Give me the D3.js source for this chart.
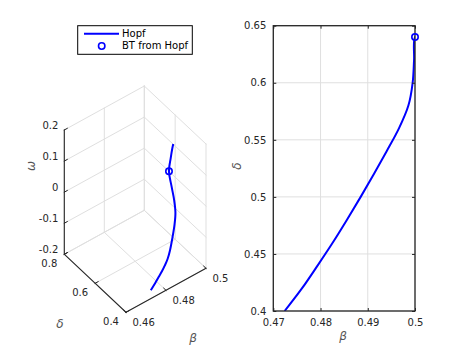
<!DOCTYPE html>
<html>
<head>
<meta charset="utf-8">
<script src="https://cdn.jsdelivr.net/npm/d3@7"></script>
<style>
  html, body { margin: 0; padding: 0; background: #fff; }
  svg { display: block; }
  text { font-family: "DejaVu Sans", sans-serif; }
</style>
</head>
<body>
<svg id="chart" width="474" height="350"></svg>
<script>
// Hopf bifurcation curve in (beta, delta, omega); the last three points continue past the BT point
const hopfBeta  = [0.4724, 0.4761, 0.4794, 0.4826, 0.4856, 0.4885, 0.4913, 0.4940, 0.4966, 0.4986,
                   0.4995, 0.4998, 0.5000, 0.50125, 0.50245, 0.5033];
const hopfDelta = [0.40, 0.42, 0.44, 0.46, 0.48, 0.50, 0.52, 0.54, 0.56, 0.58,
                   0.60, 0.62, 0.64, 0.645, 0.650, 0.655];
const hopfOmega = [-0.173, -0.173, -0.174, -0.176, -0.177, -0.176, -0.166, -0.146, -0.122, -0.100,
                   -0.072, -0.040, 0.000, 0.036, 0.061, 0.069];

// Bogdanov–Takens point detected on the Hopf curve
const btBeta = [0.5];
const btDelta = [0.64];
const btOmega = [0.0];

// Tick values and labels
const betaTicks3D = [0.46, 0.48, 0.5];
const betaLabels3D = ["0.46", "0.48", "0.5"];
const deltaTicks3D = [0.4, 0.6, 0.8];
const deltaLabels3D = ["0.4", "0.6", "0.8"];
const omegaTicks = [-0.2, -0.1, 0, 0.1, 0.2];
const omegaLabels = ["-0.2", "-0.1", "0", "0.1", "0.2"];
const betaTicks2D = [0.47, 0.48, 0.49, 0.5];
const betaLabels2D = ["0.47", "0.48", "0.49", "0.5"];
const deltaTicks2D = [0.4, 0.45, 0.5, 0.55, 0.6, 0.65];
const deltaLabels2D = ["0.4", "0.45", "0.5", "0.55", "0.6", "0.65"];

const legendLabels = ["Hopf", "BT from Hopf"];

const BLUE = "#0000ff";
const AXIS = "#262626";
const GRID = "#dfdfdf";

const svg = d3.select("#chart");
const hopf = hopfBeta.map((b, i) => ({ b, d: hopfDelta[i], w: hopfOmega[i] }));
const bt = btBeta.map((b, i) => ({ b, d: btDelta[i], w: btOmega[i] }));

// ---------- Left panel: 3-D view (orthographic projection) ----------
const fb = d3.scaleLinear().domain([0.46, 0.5]).range([0, 1]);
const fd = d3.scaleLinear().domain([0.4, 0.8]).range([0, 1]);
const fw = d3.scaleLinear().domain([-0.2, 0.2]).range([0, 1]);
const origin = [126, 312.3];          // corner beta=0.46, delta=0.4, omega=-0.2
const vB = [80, -44], vD = [-61.7, -58], vW = [0, -124.3];
function proj(b, d, w) {
  const tb = fb(b), td = fd(d), tw = fw(w);
  return [origin[0] + tb * vB[0] + td * vD[0] + tw * vW[0],
          origin[1] + tb * vB[1] + td * vD[1] + tw * vW[1]];
}
const g3 = svg.append("g");
const seg = (p, q, color, width) =>
  g3.append("line").attr("x1", p[0]).attr("y1", p[1]).attr("x2", q[0]).attr("y2", q[1])
    .attr("stroke", color).attr("stroke-width", width).attr("stroke-linecap", "square");

const bMin = 0.46, bMax = 0.5, dMin = 0.4, dMax = 0.8, wMin = -0.2, wMax = 0.2;
// floor grid (omega = min)
betaTicks3D.forEach(b => seg(proj(b, dMin, wMin), proj(b, dMax, wMin), GRID, 1));
deltaTicks3D.forEach(d => seg(proj(bMin, d, wMin), proj(bMax, d, wMin), GRID, 1));
// back wall delta = max
betaTicks3D.forEach(b => seg(proj(b, dMax, wMin), proj(b, dMax, wMax), GRID, 1));
omegaTicks.forEach(w => seg(proj(bMin, dMax, w), proj(bMax, dMax, w), GRID, 1));
// back wall beta = max
deltaTicks3D.forEach(d => seg(proj(bMax, d, wMin), proj(bMax, d, wMax), GRID, 1));
omegaTicks.forEach(w => seg(proj(bMax, dMin, w), proj(bMax, dMax, w), GRID, 1));

// axis lines
seg(proj(bMin, dMax, wMin), proj(bMin, dMax, wMax), AXIS, 1.1);
seg(proj(bMin, dMin, wMin), proj(bMin, dMax, wMin), AXIS, 1.1);
seg(proj(bMin, dMin, wMin), proj(bMax, dMin, wMin), AXIS, 1.1);

// ticks
omegaTicks.forEach(w => seg(proj(bMin, dMax, w), proj(bMin + 0.0015, dMax, w), AXIS, 1));
deltaTicks3D.forEach(d => seg(proj(bMin, d, wMin), proj(bMin + 0.0015, d, wMin), AXIS, 1));
betaTicks3D.forEach(b => seg(proj(b, dMin, wMin), proj(b, dMin + 0.015, wMin), AXIS, 1));

// tick labels
omegaTicks.forEach((w, i) => {
  const p = proj(bMin, dMax, w);
  g3.append("text").attr("x", p[0] - 6).attr("y", p[1] - 5).attr("dy", "0.35em")
    .attr("text-anchor", "end").attr("font-size", 10).attr("fill", AXIS).text(omegaLabels[i]);
});
deltaTicks3D.forEach((d, i) => {
  const p = proj(bMin, d, wMin);
  g3.append("text").attr("x", p[0] - 15).attr("y", p[1] + 9.5).attr("dy", "0.35em")
    .attr("text-anchor", "middle").attr("font-size", 10).attr("fill", AXIS).text(deltaLabels3D[i]);
});
betaTicks3D.forEach((b, i) => {
  const p = proj(b, dMin, wMin);
  g3.append("text").attr("x", p[0] + 6.5).attr("y", p[1] + 10).attr("dy", "0.35em")
    .attr("text-anchor", "start").attr("font-size", 10).attr("fill", AXIS).text(betaLabels3D[i]);
});

// axis labels
const lab = (g, x, y, t, rot) => {
  const el = g.append("text").attr("x", x).attr("y", y).attr("dy", "0.35em")
    .attr("text-anchor", "middle").attr("font-family", "'Liberation Serif', serif")
    .attr("font-style", "italic").attr("font-size", 12).attr("fill", "#555").text(t);
  if (rot) el.attr("transform", `rotate(-90,${x},${y})`);
};
lab(g3, 31, 166, "ω", true);
lab(g3, 60, 324, "δ", false);
lab(g3, 193, 338, "β", false);

// Hopf curve
g3.append("path").datum(hopf).attr("d", d3.line()
    .x(p => proj(p.b, p.d, p.w)[0]).y(p => proj(p.b, p.d, p.w)[1]).curve(d3.curveCatmullRom))
  .attr("fill", "none").attr("stroke", BLUE).attr("stroke-width", 2);
bt.forEach(p => {
  const q = proj(p.b, p.d, p.w);
  g3.append("circle").attr("cx", q[0]).attr("cy", q[1]).attr("r", 3.2)
    .attr("fill", "none").attr("stroke", BLUE).attr("stroke-width", 1.6);
});

// ---------- Right panel: delta vs beta ----------
const x2 = d3.scaleLinear().domain([0.47, 0.5]).range([273.3, 415]);
const y2 = d3.scaleLinear().domain([0.4, 0.65]).range([311, 25.7]);
const g2 = svg.append("g");

// grid
g2.selectAll(".gx").data(betaTicks2D).join("line")
  .attr("x1", d => x2(d)).attr("x2", d => x2(d)).attr("y1", y2.range()[0]).attr("y2", y2.range()[1])
  .attr("stroke", GRID).attr("stroke-width", 1);
g2.selectAll(".gy").data(deltaTicks2D).join("line")
  .attr("y1", d => y2(d)).attr("y2", d => y2(d)).attr("x1", x2.range()[0]).attr("x2", x2.range()[1])
  .attr("stroke", GRID).attr("stroke-width", 1);

svg.append("clipPath").attr("id", "clip2").append("rect")
  .attr("x", x2.range()[0]).attr("y", y2.range()[1])
  .attr("width", x2.range()[1] - x2.range()[0]).attr("height", y2.range()[0] - y2.range()[1]);

g2.append("path").datum(hopf).attr("clip-path", "url(#clip2)")
  .attr("d", d3.line().x(p => x2(p.b)).y(p => y2(p.d)).curve(d3.curveCatmullRom))
  .attr("fill", "none").attr("stroke", BLUE).attr("stroke-width", 2);

// axes (ticks pointing inward on all four sides)
const styleAxis = g => {
  g.select(".domain").remove();
  g.selectAll(".tick line").attr("stroke", AXIS);
  g.selectAll(".tick text").attr("fill", AXIS).attr("font-size", 10)
    .attr("font-family", "'DejaVu Sans', sans-serif");
};
g2.append("g").attr("transform", `translate(0,${y2.range()[0]})`)
  .call(d3.axisBottom(x2).tickValues(betaTicks2D).tickFormat((d, i) => betaLabels2D[i])
    .tickSizeInner(-3).tickSizeOuter(0).tickPadding(8))
  .call(styleAxis);
g2.append("g").attr("transform", `translate(0,${y2.range()[1]})`)
  .call(d3.axisTop(x2).tickValues(betaTicks2D).tickFormat("").tickSizeInner(-3).tickSizeOuter(0))
  .call(styleAxis);
g2.append("g").attr("transform", `translate(${x2.range()[0]},0)`)
  .call(d3.axisLeft(y2).tickValues(deltaTicks2D).tickFormat((d, i) => deltaLabels2D[i])
    .tickSizeInner(-3).tickSizeOuter(0).tickPadding(7))
  .call(styleAxis);
g2.append("g").attr("transform", `translate(${x2.range()[1]},0)`)
  .call(d3.axisRight(y2).tickValues(deltaTicks2D).tickFormat("").tickSizeInner(-3).tickSizeOuter(0))
  .call(styleAxis);

g2.append("rect").attr("x", x2.range()[0]).attr("y", y2.range()[1])
  .attr("width", x2.range()[1] - x2.range()[0]).attr("height", y2.range()[0] - y2.range()[1])
  .attr("fill", "none").attr("stroke", AXIS).attr("stroke-width", 1.3);

bt.forEach(p => {
  g2.append("circle").attr("cx", x2(p.b)).attr("cy", y2(p.d)).attr("r", 3.2)
    .attr("fill", "none").attr("stroke", BLUE).attr("stroke-width", 1.6);
});

lab(g2, 237, 166, "δ", true);
lab(g2, 343, 336, "β", false);

// ---------- Legend ----------
const lg = svg.append("g");
lg.append("rect").attr("x", 77.7).attr("y", 25.7).attr("width", 114.6).attr("height", 28.6)
  .attr("fill", "#fff").attr("stroke", "#000").attr("stroke-width", 1);
lg.append("line").attr("x1", 84).attr("x2", 119).attr("y1", 33.7).attr("y2", 33.7)
  .attr("stroke", BLUE).attr("stroke-width", 2);
lg.append("circle").attr("cx", 101.7).attr("cy", 46).attr("r", 3.2)
  .attr("fill", "none").attr("stroke", BLUE).attr("stroke-width", 1.6);
lg.selectAll("text.lab").data(legendLabels).join("text")
  .attr("x", 122).attr("y", (d, i) => 33.7 + i * 11.5).attr("dy", "0.35em")
  .attr("font-size", 10).attr("fill", "#000").text(d => d);
</script>
</body>
</html>
